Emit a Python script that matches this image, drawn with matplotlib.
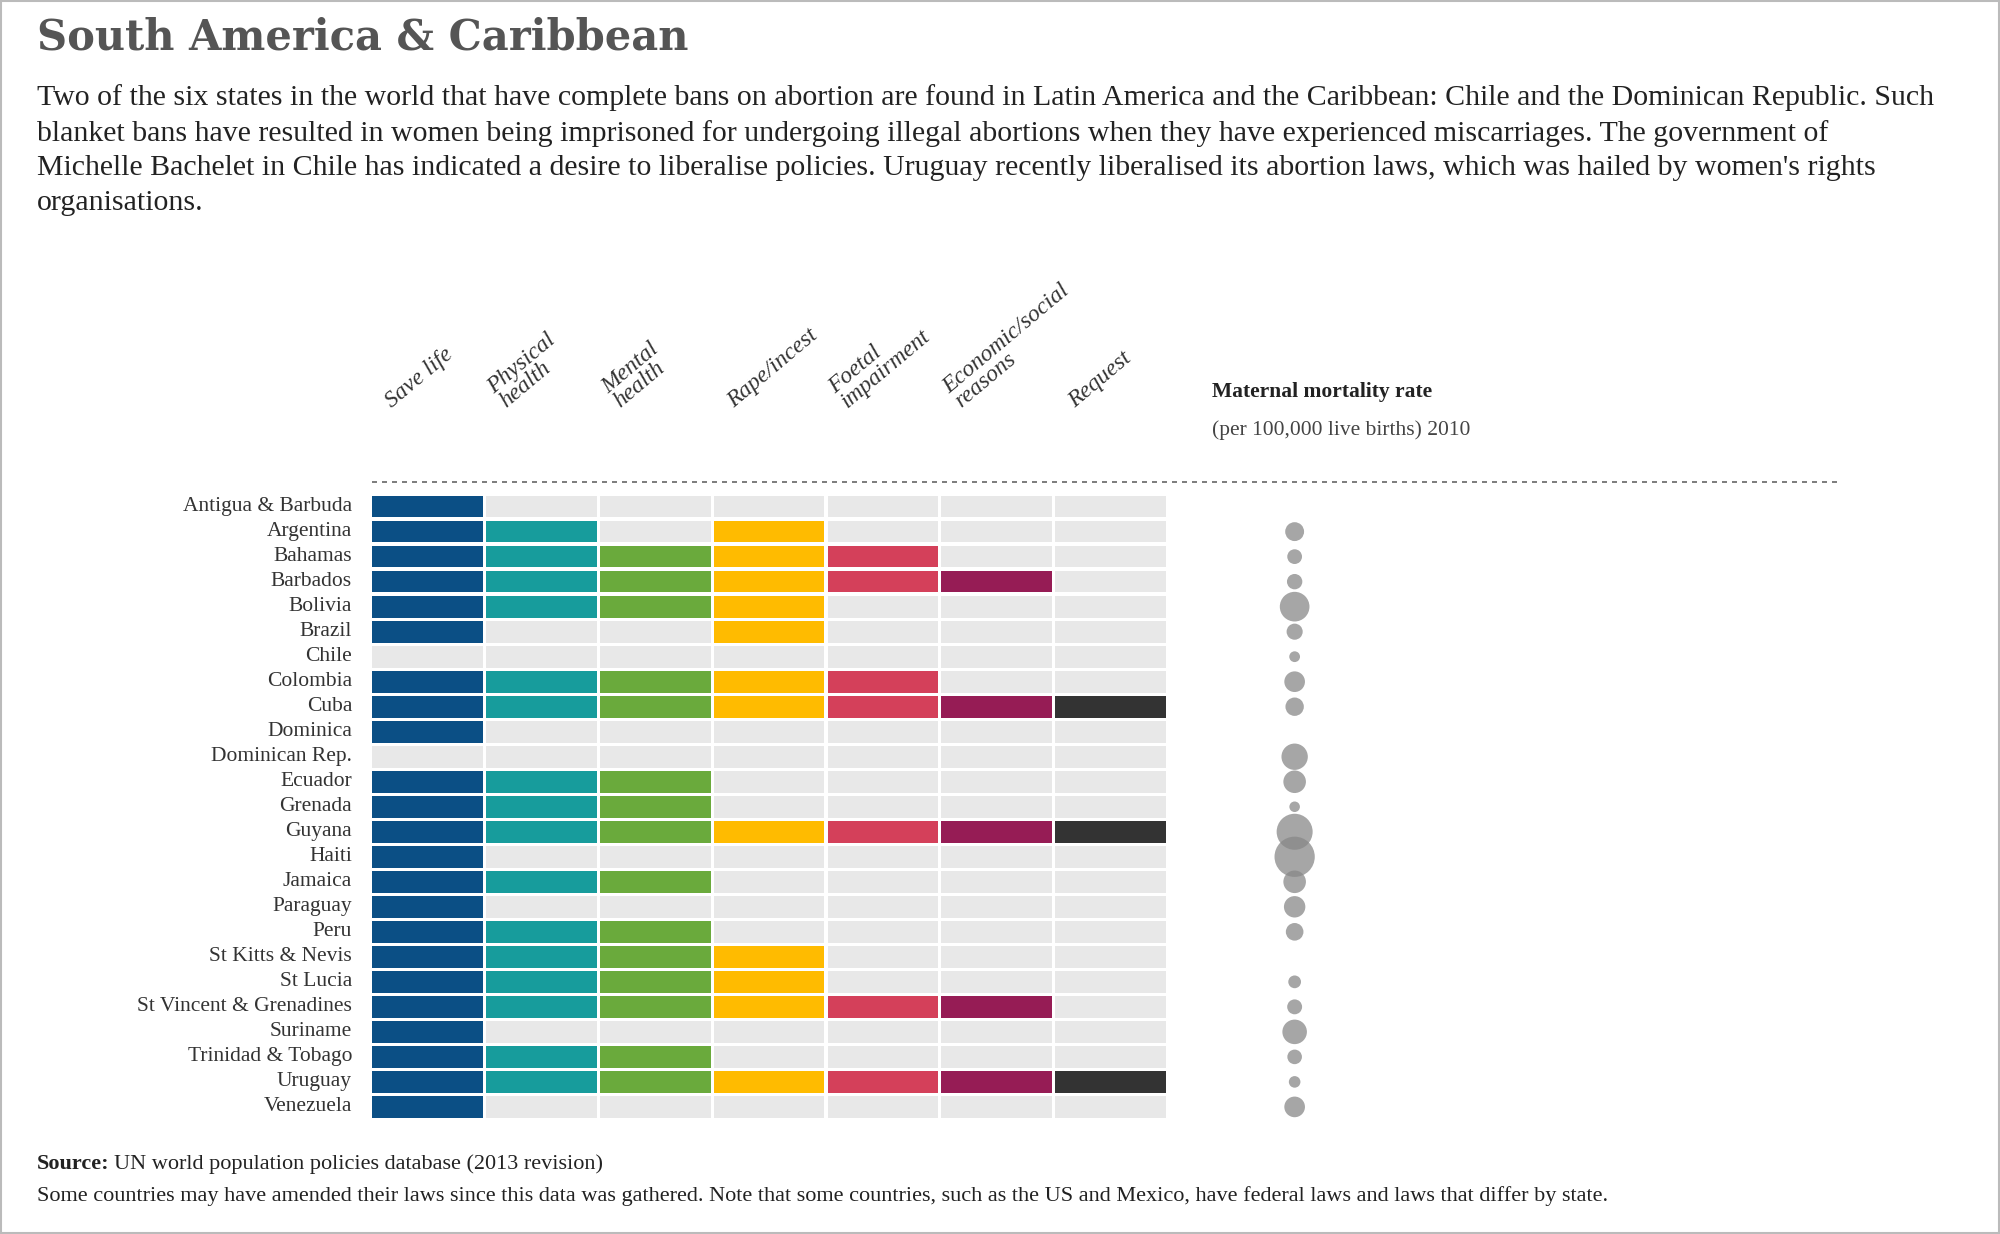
import matplotlib.pyplot as plt
from matplotlib.patches import Rectangle

countries = ["Antigua & Barbuda", "Argentina", "Bahamas", "Barbados", "Bolivia", "Brazil",
             "Chile", "Colombia", "Cuba", "Dominica", "Dominican Rep.", "Ecuador", "Grenada",
             "Guyana", "Haiti", "Jamaica", "Paraguay", "Peru", "St Kitts & Nevis", "St Lucia",
             "St Vincent & Grenadines", "Suriname", "Trinidad & Tobago", "Uruguay", "Venezuela"]
grounds = ["Save life", "Physical\nhealth", "Mental\nhealth", "Rape/incest",
           "Foetal\nimpairment", "Economic/social\nreasons", "Request"]
allowed = ["1000000", "1101000", "1111100", "1111110", "1111000", "1001000",
           "0000000", "1111100", "1111111", "1000000", "0000000", "1110000", "1110000",
           "1111111", "1000000", "1110000", "1000000", "1110000", "1111000", "1111000",
           "1111110", "1000000", "1110000", "1111111", "1000000"]
# maternal mortality per 100,000 live births, 2010 (None = no data)
mmr = [None, 77, 47, 51, 190, 56, 25, 92, 73, None, 150, 110, 24, 280, 350, 110,
       99, 67, None, 35, 48, 130, 46, 29, 92]

colors = ["#0b4f85", "#179c9c", "#6aaa3c", "#ffbb00", "#d4405a", "#961c55", "#333333"]
grey = "#e8e8e8"

serif = "Liberation Serif"
fig = plt.figure(figsize=(20, 12.34), dpi=100)
ax = fig.add_axes([0, 0, 1, 1])
ax.set_xlim(0, 1568)
ax.set_ylim(967, 0)
ax.axis("off")

ax.add_patch(Rectangle((1, 1), 1566, 965, fill=False, ec="#bbbbbb", lw=1.5))

ax.text(29, 39, "South America & Caribbean", fontsize=30, fontweight="bold",
        color="#555555", family="DejaVu Serif", va="baseline")
intro = ("Two of the six states in the world that have complete bans on abortion are found in Latin America and the Caribbean: Chile and the Dominican Republic. Such\n"
         "blanket bans have resulted in women being imprisoned for undergoing illegal abortions when they have experienced miscarriages. The government of\n"
         "Michelle Bachelet in Chile has indicated a desire to liberalise policies. Uruguay recently liberalised its abortion laws, which was hailed by women's rights\n"
         "organisations.")
ax.text(29, 66, intro, fontsize=21.5, family=serif, color="#222222", va="top", linespacing=1.42)

x0, cw, y0, rh = 292, 89.2, 397, 19.6
for i, name in enumerate(countries):
    y = y0 + i * rh
    ax.text(276, y, name, ha="right", va="center", fontsize=15.5, family=serif, color="#333333")
    for j in range(len(grounds)):
        c = colors[j] if allowed[i][j] == "1" else grey
        ax.add_patch(Rectangle((x0 + j * cw, y - 8.5), cw - 2.5, 17, fc=c, ec="none"))
    if mmr[i] is not None:
        ax.scatter(1015, y, s=mmr[i] * 2.4, color="#888888", alpha=0.75, edgecolors="none")

for j, g in enumerate(grounds):
    ax.text(x0 + j * cw + 18, 323, g, rotation=40, rotation_mode="anchor", ha="left",
            va="bottom", fontsize=17, family=serif, style="italic", color="#333333",
            linespacing=0.85)

ax.text(950, 307, "Maternal mortality rate", fontsize=15.5, fontweight="bold",
        family=serif, color="#222222", va="center")
ax.text(950, 337, "(per 100,000 live births) 2010", fontsize=15.5, family=serif,
        color="#444444", va="center")

ax.plot([292, 1440], [378, 378], ls=(0, (3, 3)), color="#666666", lw=1.2)

ax.text(29, 912, "Source:", fontsize=16, fontweight="bold", family=serif, color="#222222", va="center")
ax.text(89, 912, "UN world population policies database (2013 revision)", fontsize=16,
        family=serif, color="#222222", va="center")
ax.text(29, 937, "Some countries may have amended their laws since this data was gathered. Note that some countries, such as the US and Mexico, have federal laws and laws that differ by state.",
        fontsize=16, family=serif, color="#222222", va="center")

fig.savefig("out.png")
